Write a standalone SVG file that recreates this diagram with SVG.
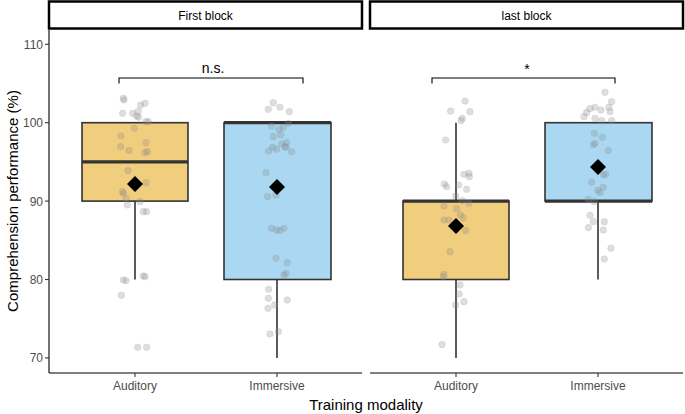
<svg xmlns="http://www.w3.org/2000/svg" width="685" height="414" viewBox="0 0 685 414">
<style>
text{font-family:"Liberation Sans",Arial,sans-serif}
.tk{font-size:12px;fill:#4d4d4d}
.strip{fill:#fff;stroke:#000;stroke-width:2.5}
.ax{stroke:#000;stroke-width:1.1;fill:none}
.tick{stroke:#333;stroke-width:1.1}
.box{stroke:#333;stroke-width:1.6}
.med{stroke:#333;stroke-width:3.2}
.wh{stroke:#333;stroke-width:1.6}
.pt circle{fill:#8a8a8a;fill-opacity:0.28;stroke:#8a8a8a;stroke-opacity:0.3;stroke-width:1.5}
.br{fill:none;stroke:#000;stroke-width:1.1}
</style>
<rect width="685" height="414" fill="#fff"/>
<g id="strip-first"><rect class="strip" x="49" y="1.5" width="313" height="27"/><text x="205.5" y="19.5" text-anchor="middle" font-size="12">First block</text></g>
<g id="strip-last"><rect class="strip" x="370" y="1.5" width="313" height="27"/><text x="526.5" y="19.5" text-anchor="middle" font-size="12">last block</text></g>
<g id="axes">
<line class="ax" x1="49" y1="30" x2="49" y2="373"/>
<line class="ax" x1="49" y1="373" x2="362" y2="373"/>
<line class="ax" x1="370" y1="373" x2="683" y2="373"/>
<g class="tick">
<line x1="45" y1="44.3" x2="49" y2="44.3"/><line x1="45" y1="122.7" x2="49" y2="122.7"/><line x1="45" y1="201.1" x2="49" y2="201.1"/><line x1="45" y1="279.5" x2="49" y2="279.5"/><line x1="45" y1="357.9" x2="49" y2="357.9"/>
<line x1="135" y1="373" x2="135" y2="377"/><line x1="277" y1="373" x2="277" y2="377"/><line x1="456" y1="373" x2="456" y2="377"/><line x1="598" y1="373" x2="598" y2="377"/>
</g>
<g class="tk" text-anchor="end">
<text x="43" y="48.5">110</text><text x="43" y="127">100</text><text x="43" y="205.5">90</text><text x="43" y="284">80</text><text x="43" y="362">70</text>
</g>
<g class="tk" text-anchor="middle">
<text x="135" y="390">Auditory</text><text x="277" y="390">Immersive</text><text x="456" y="390">Auditory</text><text x="598" y="390">Immersive</text>
</g>
<text x="366" y="410" text-anchor="middle" font-size="15">Training modality</text>
<text transform="translate(18,201) rotate(-90)" text-anchor="middle" font-size="15">Comprehension performance (%)</text>
</g>
<g id="box-first-auditory">
<line class="wh" x1="135" y1="201.1" x2="135" y2="279.5"/>
<rect class="box" x="82" y="122.7" width="106" height="78.4" fill="#F1CD7E"/>
<line class="med" x1="82" y1="161.9" x2="188" y2="161.9"/>
</g>
<g id="box-first-immersive">
<line class="wh" x1="277" y1="279.5" x2="277" y2="357.9"/>
<rect class="box" x="224" y="122.7" width="107" height="156.8" fill="#AAD8F2"/>
<line class="med" x1="224" y1="122.7" x2="331" y2="122.7"/>
</g>
<g id="box-last-auditory">
<line class="wh" x1="456" y1="122.7" x2="456" y2="357.9"/>
<rect class="box" x="403" y="201.1" width="106" height="78.4" fill="#F1CD7E"/>
<line class="med" x1="403" y1="201.1" x2="509" y2="201.1"/>
</g>
<g id="box-last-immersive">
<line class="wh" x1="598" y1="201.1" x2="598" y2="279.5"/>
<rect class="box" x="545" y="122.7" width="107" height="78.4" fill="#AAD8F2"/>
<line class="med" x1="545" y1="201.1" x2="652" y2="201.1"/>
</g>
<g class="pt" transform="translate(40,30) scale(0.3333)">
<circle cx="250" cy="205" r="10"/><circle cx="252" cy="210" r="10"/><circle cx="302" cy="225" r="10"/><circle cx="315" cy="220" r="10"/><circle cx="248" cy="250" r="10"/><circle cx="278" cy="250" r="10"/><circle cx="295" cy="243" r="10"/><circle cx="290" cy="258" r="10"/><circle cx="296" cy="262" r="10"/><circle cx="318" cy="275" r="10"/><circle cx="325" cy="275" r="10"/><circle cx="283" cy="295" r="10"/><circle cx="243" cy="318" r="10"/><circle cx="318" cy="338" r="10"/><circle cx="242" cy="350" r="10"/><circle cx="267" cy="362" r="10"/><circle cx="322" cy="365" r="10"/><circle cx="315" cy="368" r="10"/><circle cx="264" cy="422" r="10"/><circle cx="318" cy="458" r="10"/><circle cx="248" cy="485" r="10"/><circle cx="250" cy="490" r="10"/><circle cx="258" cy="505" r="10"/><circle cx="300" cy="515" r="10"/><circle cx="262" cy="525" r="10"/><circle cx="310" cy="545" r="10"/><circle cx="320" cy="545" r="10"/><circle cx="250" cy="750" r="10"/><circle cx="258" cy="752" r="10"/><circle cx="310" cy="738" r="10"/><circle cx="315" cy="740" r="10"/><circle cx="244" cy="796" r="10"/><circle cx="293" cy="952" r="10"/><circle cx="320" cy="952" r="10"/>
<circle cx="700" cy="218" r="10"/><circle cx="685" cy="238" r="10"/><circle cx="720" cy="232" r="10"/><circle cx="748" cy="245" r="10"/><circle cx="695" cy="288" r="10"/><circle cx="745" cy="280" r="10"/><circle cx="717" cy="298" r="10"/><circle cx="730" cy="292" r="10"/><circle cx="722" cy="314" r="10"/><circle cx="700" cy="320" r="10"/><circle cx="740" cy="338" r="10"/><circle cx="725" cy="342" r="10"/><circle cx="698" cy="352" r="10"/><circle cx="710" cy="358" r="10"/><circle cx="738" cy="352" r="10"/><circle cx="686" cy="363" r="10"/><circle cx="735" cy="350" r="10"/><circle cx="755" cy="365" r="10"/><circle cx="678" cy="428" r="10"/><circle cx="683" cy="500" r="10"/><circle cx="708" cy="495" r="10"/><circle cx="695" cy="595" r="10"/><circle cx="710" cy="600" r="10"/><circle cx="720" cy="602" r="10"/><circle cx="732" cy="595" r="10"/><circle cx="708" cy="685" r="10"/><circle cx="742" cy="698" r="10"/><circle cx="738" cy="730" r="10"/><circle cx="732" cy="735" r="10"/><circle cx="686" cy="778" r="10"/><circle cx="685" cy="805" r="10"/><circle cx="742" cy="810" r="10"/><circle cx="704" cy="825" r="10"/><circle cx="684" cy="835" r="10"/><circle cx="690" cy="912" r="10"/><circle cx="715" cy="905" r="10"/>
</g>
<g class="pt" transform="translate(365,30) scale(0.3333)">
<circle cx="300" cy="213" r="10"/><circle cx="257" cy="243" r="10"/><circle cx="315" cy="245" r="10"/><circle cx="292" cy="265" r="10"/><circle cx="288" cy="272" r="10"/><circle cx="242" cy="330" r="10"/><circle cx="297" cy="433" r="10"/><circle cx="312" cy="430" r="10"/><circle cx="313" cy="440" r="10"/><circle cx="238" cy="462" r="10"/><circle cx="245" cy="470" r="10"/><circle cx="281" cy="465" r="10"/><circle cx="305" cy="478" r="10"/><circle cx="272" cy="498" r="10"/><circle cx="292" cy="512" r="10"/><circle cx="312" cy="520" r="10"/><circle cx="237" cy="528" r="10"/><circle cx="275" cy="536" r="10"/><circle cx="286" cy="555" r="10"/><circle cx="295" cy="563" r="10"/><circle cx="237" cy="570" r="10"/><circle cx="252" cy="570" r="10"/><circle cx="302" cy="602" r="10"/><circle cx="255" cy="665" r="10"/><circle cx="237" cy="733" r="10"/><circle cx="235" cy="740" r="10"/><circle cx="285" cy="765" r="10"/><circle cx="282" cy="792" r="10"/><circle cx="297" cy="815" r="10"/><circle cx="272" cy="825" r="10"/><circle cx="231" cy="944" r="10"/>
<circle cx="720" cy="187" r="10"/><circle cx="740" cy="215" r="10"/><circle cx="732" cy="232" r="10"/><circle cx="690" cy="232" r="10"/><circle cx="675" cy="236" r="10"/><circle cx="665" cy="248" r="10"/><circle cx="657" cy="260" r="10"/><circle cx="708" cy="240" r="10"/><circle cx="735" cy="245" r="10"/><circle cx="690" cy="265" r="10"/><circle cx="710" cy="272" r="10"/><circle cx="740" cy="272" r="10"/><circle cx="688" cy="310" r="10"/><circle cx="712" cy="322" r="10"/><circle cx="690" cy="340" r="10"/><circle cx="685" cy="345" r="10"/><circle cx="730" cy="362" r="10"/><circle cx="700" cy="420" r="10"/><circle cx="715" cy="435" r="10"/><circle cx="722" cy="433" r="10"/><circle cx="680" cy="457" r="10"/><circle cx="715" cy="472" r="10"/><circle cx="698" cy="480" r="10"/><circle cx="705" cy="488" r="10"/><circle cx="670" cy="508" r="10"/><circle cx="688" cy="515" r="10"/><circle cx="675" cy="556" r="10"/><circle cx="685" cy="575" r="10"/><circle cx="718" cy="575" r="10"/><circle cx="670" cy="593" r="10"/><circle cx="715" cy="600" r="10"/><circle cx="738" cy="655" r="10"/><circle cx="718" cy="687" r="10"/>
</g>
<g id="means" fill="#000">
<polygon points="135,176 143,184 135,192 127,184"/>
<polygon points="277,179 285,187 277,195 269,187"/>
<polygon points="456,218 464,226 456,234 448,226"/>
<polygon points="598,159 606,167 598,175 590,167"/>
</g>
<g id="connectors">
<path class="br" d="M119,83.5 V78 H303 V83.5"/>
<path class="br" d="M432,83.5 V78 H615 V83.5"/>
</g>
<text x="213" y="72.5" text-anchor="middle" font-size="14">n.s.</text>
<text x="527" y="74" text-anchor="middle" font-size="14">*</text>
</svg>
